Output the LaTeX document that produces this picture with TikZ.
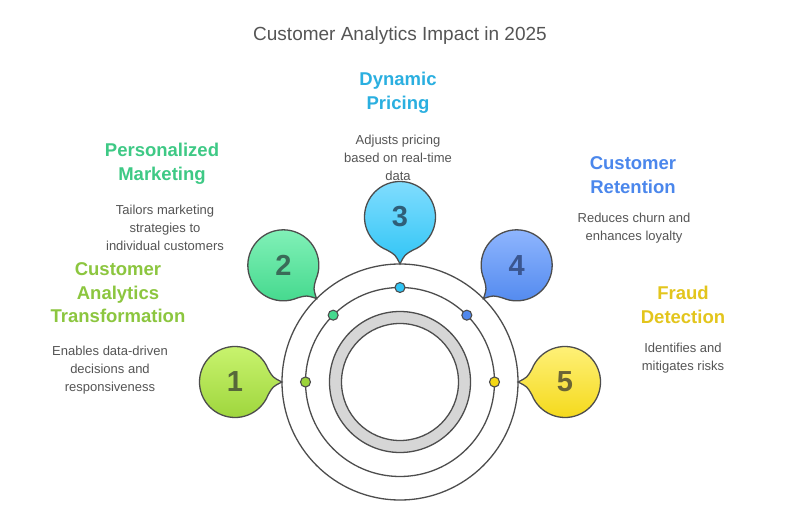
\documentclass[tikz,border=0pt]{standalone}
\usepackage{fontspec}
\setmainfont{Liberation Sans}
\usetikzlibrary{calc}

\definecolor{txtgray}{HTML}{555555}
\definecolor{linegray}{HTML}{4D4D4D}
\definecolor{ringgray}{HTML}{D6D6D6}
% bubble colours
\definecolor{top1}{HTML}{CBF571}\definecolor{bot1}{HTML}{9CD43A}\definecolor{head1}{HTML}{8CC63F}\definecolor{num1}{HTML}{56673A}
\definecolor{top2}{HTML}{85F2BA}\definecolor{bot2}{HTML}{45D98E}\definecolor{head2}{HTML}{3EC985}\definecolor{num2}{HTML}{3A6B58}
\definecolor{top3}{HTML}{85DEFF}\definecolor{bot3}{HTML}{30C5F5}\definecolor{head3}{HTML}{2AAFE0}\definecolor{num3}{HTML}{2F5E78}
\definecolor{top4}{HTML}{92B8FF}\definecolor{bot4}{HTML}{5088EE}\definecolor{head4}{HTML}{4B87EC}\definecolor{num4}{HTML}{3A5690}
\definecolor{top5}{HTML}{FFF27E}\definecolor{bot5}{HTML}{F4D816}\definecolor{head5}{HTML}{E3C51C}\definecolor{num5}{HTML}{6B6535}

\tikzset{
  heading/.style={align=center, font=\bfseries\fontsize{18.5}{23.5}\selectfont},
  desc/.style={align=center, text=txtgray, font=\fontsize{13}{18}\selectfont},
  bubble/.style={draw=linegray, line width=1.3pt},
  orbit/.style={draw=linegray, line width=1.3pt},
  number/.style={font=\bfseries\fontsize{29}{29}\selectfont}
}

\begin{document}
\begin{tikzpicture}[x=1pt, y=1pt]
\useasboundingbox[fill=white] (0,0) rectangle (800,522);
\coordinate (C) at (400,140);
% Title
\node[text=txtgray, font=\fontsize{19}{22}\selectfont] (title) at (400,486) {Customer Analytics Impact in 2025};
% Draw orbits
\draw[orbit] (C) circle[radius=118];
\draw[orbit] (C) circle[radius=94.5];
\draw[orbit, fill=ringgray, even odd rule] (C) circle[radius=70.5] (C) circle[radius=58.5];
% Draw bubbles and dots
\foreach \i/\ang in {1/180, 2/135, 3/90, 4/45, 5/0} {
    \coordinate (b\i) at ($(C)+(\ang:165)$);
    \coordinate (t\i) at ($(C)+(\ang:118)$);
    \draw[bubble, top color=top\i, bottom color=bot\i]
        ($(b\i)+(\ang+180+22:35.5)$) arc[start angle=\ang+180+22, end angle=\ang+180+338, radius=35.5]
        .. controls ($(b\i)+(\ang+180-7:38)$) .. (t\i)
        .. controls ($(b\i)+(\ang+180+7:38)$) .. ($(b\i)+(\ang+180+22:35.5)$) -- cycle;
    \node[number, text=num\i] (n\i) at (b\i) {\i};
    \draw[line width=1.1pt, draw=linegray, fill=bot\i] ($(C)+(\ang:94.5)$) circle[radius=5];
}
% Headings
\node[heading, text=head1] (h1) at (118,229) {Customer\\Analytics\\Transformation};
\node[desc] (d1) at (110,152) {Enables data-driven\\decisions and\\responsiveness};
\node[heading, text=head2] (h2) at (162,358) {Personalized\\Marketing};
\node[desc] (d2) at (165,294) {Tailors marketing\\strategies to\\individual customers};
\node[heading, text=head3] (h3) at (398,429) {Dynamic\\Pricing};
\node[desc] (d3) at (398,364) {Adjusts pricing\\based on real-time\\data};
\node[heading, text=head4] (h4) at (633,347) {Customer\\Retention};
\node[desc] (d4) at (634,294) {Reduces churn and\\enhances loyalty};
\node[heading, text=head5] (h5) at (683,217) {Fraud\\Detection};
\node[desc] (d5) at (683,164) {Identifies and\\mitigates risks};
\end{tikzpicture}
\end{document}
